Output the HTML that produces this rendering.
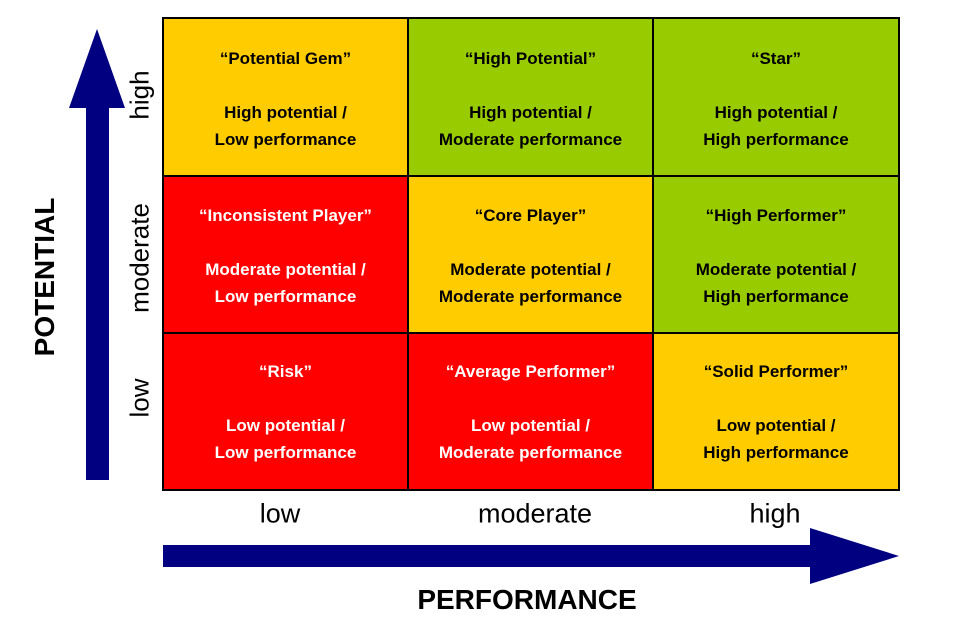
<!DOCTYPE html>
<html><head><style>
body{margin:0;background:#fff;width:960px;height:631px;overflow:hidden;font-family:"Liberation Sans",Arial,sans-serif}
.c{position:absolute;box-sizing:border-box;text-align:center;font-weight:bold;font-size:17px;line-height:27px}
.y{background:#FFCC00;color:#000}.g{background:#99CC00;color:#000}.r{background:#FF0000;color:#fff}
.t{position:absolute;font-size:26px;white-space:nowrap}
</style></head><body>
<svg width="960" height="631" style="position:absolute;left:0;top:0">
<polygon points="97,29 125,108 109,108 109,480 86,480 86,108 69,108" fill="#000080"/>
<polygon points="163,545 810,545 810,528 899,556 810,584 810,567 163,567" fill="#000080"/>
</svg>
<div style="position:absolute;left:162px;top:17px;width:738px;height:474px;background:#000"></div>
<div class="c y" style="left:164px;top:19px;width:243px;height:156px;padding-top:26px">“Potential Gem”<br><br>High potential /<br>Low performance</div>
<div class="c g" style="left:409px;top:19px;width:243px;height:156px;padding-top:26px">“High Potential”<br><br>High potential /<br>Moderate performance</div>
<div class="c g" style="left:654px;top:19px;width:244px;height:156px;padding-top:26px">“Star”<br><br>High potential /<br>High performance</div>
<div class="c r" style="left:164px;top:177px;width:243px;height:155px;padding-top:25px">“Inconsistent Player”<br><br>Moderate potential /<br>Low performance</div>
<div class="c y" style="left:409px;top:177px;width:243px;height:155px;padding-top:25px">“Core Player”<br><br>Moderate potential /<br>Moderate performance</div>
<div class="c g" style="left:654px;top:177px;width:244px;height:155px;padding-top:25px">“High Performer”<br><br>Moderate potential /<br>High performance</div>
<div class="c r" style="left:164px;top:334px;width:243px;height:155px;padding-top:24px">“Risk”<br><br>Low potential /<br>Low performance</div>
<div class="c r" style="left:409px;top:334px;width:243px;height:155px;padding-top:24px">“Average Performer”<br><br>Low potential /<br>Moderate performance</div>
<div class="c y" style="left:654px;top:334px;width:244px;height:155px;padding-top:24px">“Solid Performer”<br><br>Low potential /<br>High performance</div>
<div class="t" style="left:280px;top:514px;transform:translate(-50%,-50%);font-size:27px">low</div>
<div class="t" style="left:535px;top:514px;transform:translate(-50%,-50%);font-size:27px">moderate</div>
<div class="t" style="left:775px;top:514px;transform:translate(-50%,-50%);font-size:27px">high</div>
<div class="t" style="left:140px;top:95px;transform:translate(-50%,-50%) rotate(-90deg)">high</div>
<div class="t" style="left:140px;top:258px;transform:translate(-50%,-50%) rotate(-90deg)">moderate</div>
<div class="t" style="left:140px;top:398px;transform:translate(-50%,-50%) rotate(-90deg)">low</div>
<div class="t" style="left:527px;top:600px;transform:translate(-50%,-50%);font-weight:bold;font-size:28px">PERFORMANCE</div>
<div class="t" style="left:45px;top:277px;transform:translate(-50%,-50%) rotate(-90deg);font-weight:bold;font-size:28px">POTENTIAL</div>
</body></html>
